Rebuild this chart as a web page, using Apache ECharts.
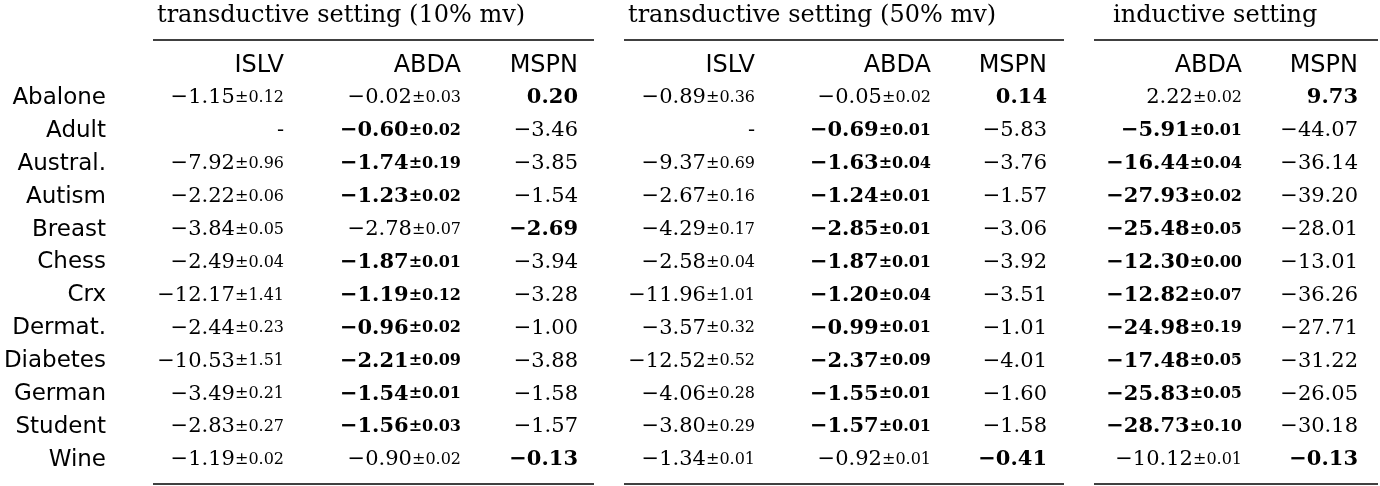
<!DOCTYPE html>
<html><head><meta charset="utf-8">
<script src="https://cdn.jsdelivr.net/npm/echarts@6/dist/echarts.min.js"></script>
<style>html,body{margin:0;padding:0;background:#fff}#c{width:1380px;height:486px}</style>
</head><body><div id="c"></div>
<script>
const rowNames=["Abalone","Adult","Austral.","Autism","Breast","Chess","Crx","Dermat.","Diabetes","German","Student","Wine"];
const groupTitles=["transductive setting (10% mv)","transductive setting (50% mv)","inductive setting"];
const colHeaders=["ISLV","ABDA","MSPN","ISLV","ABDA","MSPN","ABDA","MSPN"];
// each cell: "mean|std|bold"  (std empty if none, "b" if bold)
const islv10=["-1.15|0.12|","-||","-7.92|0.96|","-2.22|0.06|","-3.84|0.05|","-2.49|0.04|","-12.17|1.41|","-2.44|0.23|","-10.53|1.51|","-3.49|0.21|","-2.83|0.27|","-1.19|0.02|"];
const abda10=["-0.02|0.03|","-0.60|0.02|b","-1.74|0.19|b","-1.23|0.02|b","-2.78|0.07|","-1.87|0.01|b","-1.19|0.12|b","-0.96|0.02|b","-2.21|0.09|b","-1.54|0.01|b","-1.56|0.03|b","-0.90|0.02|"];
const mspn10=["0.20||b","-3.46||","-3.85||","-1.54||","-2.69||b","-3.94||","-3.28||","-1.00||","-3.88||","-1.58||","-1.57||","-0.13||b"];
const islv50=["-0.89|0.36|","-||","-9.37|0.69|","-2.67|0.16|","-4.29|0.17|","-2.58|0.04|","-11.96|1.01|","-3.57|0.32|","-12.52|0.52|","-4.06|0.28|","-3.80|0.29|","-1.34|0.01|"];
const abda50=["-0.05|0.02|","-0.69|0.01|b","-1.63|0.04|b","-1.24|0.01|b","-2.85|0.01|b","-1.87|0.01|b","-1.20|0.04|b","-0.99|0.01|b","-2.37|0.09|b","-1.55|0.01|b","-1.57|0.01|b","-0.92|0.01|"];
const mspn50=["0.14||b","-5.83||","-3.76||","-1.57||","-3.06||","-3.92||","-3.51||","-1.01||","-4.01||","-1.60||","-1.58||","-0.41||b"];
const abdaInd=["2.22|0.02|","-5.91|0.01|b","-16.44|0.04|b","-27.93|0.02|b","-25.48|0.05|b","-12.30|0.00|b","-12.82|0.07|b","-24.98|0.19|b","-17.48|0.05|b","-25.83|0.05|b","-28.73|0.10|b","-10.12|0.01|"];
const mspnInd=["9.73||b","-44.07||","-36.14||","-39.20||","-28.01||","-13.01||","-36.26||","-27.71||","-31.22||","-26.05||","-30.18||","-0.13||b"];
const columns=[islv10,abda10,mspn10,islv50,abda50,mspn50,abdaInd,mspnInd];

const colRight=[284,461,578,755,931,1047,1242,1358];
const groupLines=[[153,594],[624,1064],[1094,1378]];
const groupTitleX=[157,628,1113];
const rowY0=98, rowDy=32.9;
const SERIF="'DejaVu Serif','Liberation Serif',serif", SANS="'DejaVu Sans','Liberation Sans',sans-serif";
const fix=s=>s.replace(/-/g,'\u2212');
const els=[];
groupTitles.forEach((t,i)=>els.push({type:'text',x:groupTitleX[i],y:16,style:{text:t,font:'24px '+SERIF,fill:'#000',textAlign:'left',textVerticalAlign:'middle'}}));
groupLines.forEach(l=>{
  els.push({type:'line',shape:{x1:l[0],y1:40,x2:l[1],y2:40},style:{stroke:'#000',lineWidth:1.3}});
  els.push({type:'line',shape:{x1:l[0],y1:484,x2:l[1],y2:484},style:{stroke:'#000',lineWidth:1.3}});
});
colHeaders.forEach((h,i)=>els.push({type:'text',x:colRight[i],y:66,style:{text:h,font:'24px '+SANS,fill:'#000',textAlign:'right',textVerticalAlign:'middle'}}));
rowNames.forEach((n,r)=>els.push({type:'text',x:106,y:rowY0+r*rowDy,style:{text:n,font:'23px '+SANS,fill:'#000',textAlign:'right',textVerticalAlign:'middle'}}));
columns.forEach((col,c)=>col.forEach((cell,r)=>{
  const [m,s,b]=cell.split('|');const bold=b==='b';
  const txt=s?'{m|'+fix(m)+'}{s|\u00b1'+s+'}':'{m|'+(m==='-'?'-':fix(m))+'}';
  els.push({type:'text',x:colRight[c],y:rowY0+r*rowDy,style:{text:txt,textAlign:'right',textVerticalAlign:'middle',fill:'#000',
    rich:{m:{font:(bold?'bold ':'')+'21px '+SERIF,fill:'#000'},s:{font:(bold?'bold ':'')+'16px '+SERIF,fill:'#000'}}}});
}));
const chart=echarts.init(document.getElementById('c'));
chart.setOption({animation:false,graphic:{elements:els}});
</script></body></html>
